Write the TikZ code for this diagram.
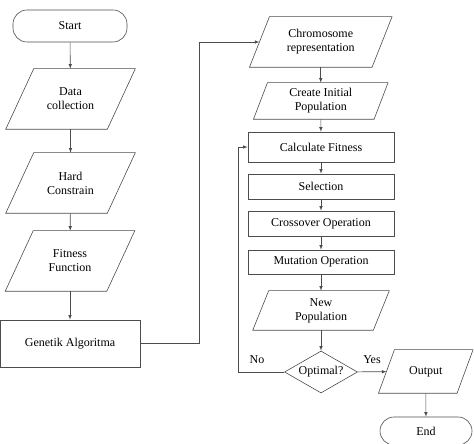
\documentclass[tikz,border=0pt]{standalone}
\usepackage{fontspec}
\setmainfont{Liberation Serif}
\usepackage{tikz}
\usetikzlibrary{positioning,shapes.geometric,arrows}
\tikzset{line/.style={draw=black!70,line width=0.6pt}}
\tikzset{base/.style={line,align=center,inner sep=1pt,font=\fontsize{12}{14}\selectfont}}
\tikzset{term/.style={base,rounded corners=14pt,minimum width=114pt,minimum height=32pt}}
\tikzset{proc/.style={base,rectangle,minimum width=146pt}}
\tikzset{io/.style={base,draw=none,rectangle}}
\tikzset{decide/.style={base,diamond,aspect=1.75,inner sep=0pt,minimum width=73pt,minimum height=42pt}}
\tikzset{link/.style={line,-latex}}

\begin{document}
\begin{tikzpicture}[x=1pt,y=1pt]
	\useasboundingbox (0,0) rectangle (474,444);
	% left column
	\node[term] (start) at (70,418) {Start};
	\node[io,minimum width=101pt,minimum height=60pt] (data) at (70.5,345) {Data\\collection};
	\node[io,minimum width=101pt,minimum height=60pt] (hard) at (70.5,261) {Hard\\Constrain};
	\node[io,minimum width=101pt,minimum height=60pt] (fitfn) at (70,183) {Fitness\\Function};
	\node[proc,minimum width=140pt,minimum height=47pt] (ga) at (70,100.5) {Genetik Algoritma};
	% right column
	\node[io,minimum width=122pt,minimum height=50pt] (chrom) at (320.75,402) {Chromosome\\representation};
	\node[io,minimum width=120pt,minimum height=36pt] (init) at (320.75,343) {Create Initial\\Population};
	\node[proc,minimum height=30pt] (calc) at (321,297) {Calculate Fitness};
	\node[proc,minimum height=25pt] (sel) at (321,257.5) {Selection};
	\node[proc,minimum height=25pt] (cross) at (321,220.5) {Crossover Operation};
	\node[proc,minimum height=24pt] (mut) at (321,182) {Mutation Operation};
	\node[io,minimum width=120pt,minimum height=39pt] (newpop) at (321,133.5) {New\\Population};
	\node[decide] (opt) at (321,72) {Optimal?};
	\node[io,minimum width=78pt,minimum height=43pt] (out) at (425.75,72.5) {Output};
	\node[term,minimum width=92pt,minimum height=28pt] (end) at (426,13) {End};
	\node[font=\fontsize{12}{14}\selectfont] (no) at (257,84) {No};
	\node[font=\fontsize{12}{14}\selectfont] (yes) at (372,84) {Yes};
	\coordinate (turn) at (199,402);
	\coordinate (back) at (238,72);
	% parallelogram outlines
	\foreach \n/\s in {data/14,hard/14,fitfn/14,chrom/10,init/7,newpop/8,out/8}
		\draw[line] ([xshift=\s]\n.north west) -- ([xshift=\s]\n.north east) -- ([xshift=-\s]\n.south east) -- ([xshift=-\s]\n.south west) -- cycle;
	% connectors
	\draw[link] (start) -- (data);
	\draw[link] (data) -- (hard);
	\draw[link] (hard) -- (fitfn);
	\draw[link] (fitfn) -- (ga);
	\draw[link] (ga.east) -| (turn) -- (chrom.west);
	\draw[link] (chrom) -- (init);
	\draw[link] (init) -- (calc);
	\draw[link] (calc) -- (sel);
	\draw[link] (sel) -- (cross);
	\draw[link] (cross) -- (mut);
	\draw[link] (mut) -- (newpop);
	\draw[link] (newpop) -- (opt);
	\draw[link] (opt) -- (out);
	\draw[link] (opt.west) -- (back) |- (calc.west);
	\draw[link] (out) -- (end);
\end{tikzpicture}
\end{document}
